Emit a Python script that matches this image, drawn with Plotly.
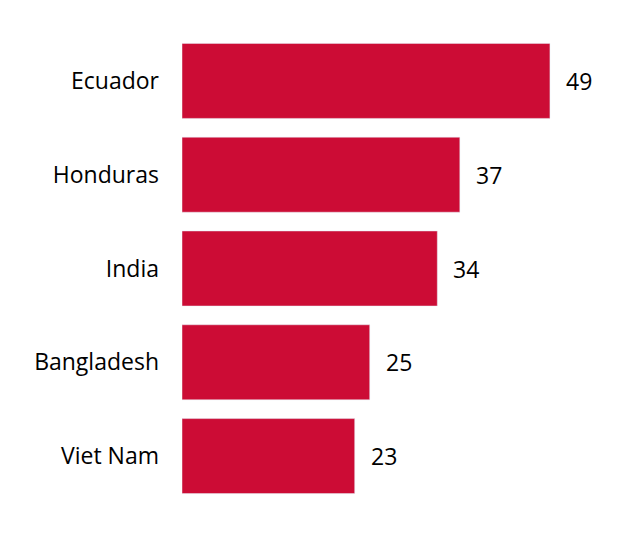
import plotly.graph_objects as go

countries = ["Ecuador", "Honduras", "India", "Bangladesh", "Viet Nam"]
values = [49, 37, 34, 25, 23]

fig = go.Figure()
fig.add_trace(go.Bar(y=countries, x=values, orientation="h",
                     marker_color="#CC0C35", width=0.8))

for c, v in zip(countries, values):
    fig.add_annotation(x=v, y=c, text=str(v), showarrow=False,
                       xanchor="left", xshift=14,
                       font=dict(size=23, color="black"))

fig.update_layout(width=617, height=539,
                  margin=dict(l=174, r=30, t=26, b=44),
                  font=dict(family="Open Sans", size=23, color="black"),
                  plot_bgcolor="white", paper_bgcolor="white",
                  showlegend=False)
fig.update_xaxes(range=[0, 55], visible=False)
fig.update_yaxes(autorange="reversed", showline=False, ticks="",
                 ticklabelstandoff=22, showgrid=False)
fig.write_html("out.html")
